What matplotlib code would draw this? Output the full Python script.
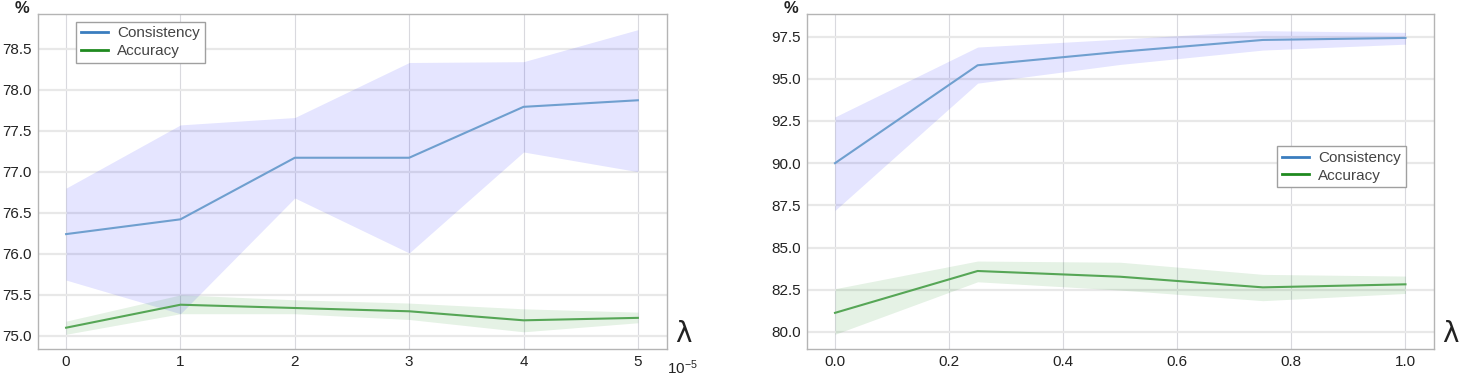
import matplotlib
matplotlib.use("Agg")
import matplotlib.pyplot as plt
from matplotlib.lines import Line2D
import numpy as np

# ---------------- data ----------------
# left panel (lambda in units of 1e-5)
lam_left = [0, 1, 2, 3, 4, 5]
cons_left_mean = [76.24, 76.42, 77.17, 77.17, 77.79, 77.87]
cons_left_upper = [76.80, 77.57, 77.66, 78.33, 78.34, 78.73]
cons_left_lower = [75.68, 75.27, 76.68, 76.01, 77.24, 77.00]
acc_left_mean = [75.10, 75.38, 75.34, 75.30, 75.19, 75.22]
acc_left_upper = [75.18, 75.50, 75.44, 75.40, 75.33, 75.29]
acc_left_lower = [75.02, 75.27, 75.27, 75.20, 75.05, 75.16]

# right panel
lam_right = [0.0, 0.25, 0.5, 0.75, 1.0]
cons_right_mean = [90.00, 95.80, 96.60, 97.30, 97.42]
cons_right_upper = [92.74, 96.88, 97.35, 97.85, 97.75]
cons_right_lower = [87.20, 94.74, 95.85, 96.70, 97.05]
acc_right_mean = [81.13, 83.61, 83.27, 82.64, 82.82]
acc_right_upper = [82.56, 84.20, 84.13, 83.41, 83.31]
acc_right_lower = [79.86, 82.97, 82.48, 81.85, 82.28]

left_xticks = [0, 1, 2, 3, 4, 5]
left_yticks = [75.0, 75.5, 76.0, 76.5, 77.0, 77.5, 78.0, 78.5]
right_xticks = [0.0, 0.2, 0.4, 0.6, 0.8, 1.0]
right_yticks = [80.0, 82.5, 85.0, 87.5, 90.0, 92.5, 95.0, 97.5]
series_labels = ["Consistency", "Accuracy"]

# ---------------- style ----------------
plt.rcParams['font.family'] = ['Liberation Sans', 'DejaVu Sans']
FS = 11
W, H = 1461, 376
fig = plt.figure(figsize=(W / 100, H / 100), dpi=100)

ax_l = fig.add_axes([37.5 / W, 1 - 349.3 / H, (666.5 - 37.5) / W, (349.3 - 14.3) / H])
ax_r = fig.add_axes([806.5 / W, 1 - 349.3 / H, (1434 - 806.5) / W, (349.3 - 14.3) / H])

line_blue = '#6f9fcf'
line_green = '#56a656'


def style_axes(ax, xticks, yticks, xfmt, yfmt):
    ax.set_facecolor('white')
    for s in ax.spines.values():
        s.set_color('#b4b4b4')
        s.set_linewidth(1.0)
    ax.set_xticks(xticks)
    ax.set_yticks(yticks)
    ax.set_xticklabels([xfmt.format(v) for v in xticks], fontsize=FS, color='#222222')
    ax.set_yticklabels([yfmt.format(v) for v in yticks], fontsize=FS, color='#222222')
    ax.tick_params(axis='both', length=0, pad=4)
    ax.xaxis.grid(True, color='#d9d9de', linewidth=0.8)
    ax.yaxis.grid(True, color='#e8e8e8', linewidth=1.6)
    ax.set_axisbelow(True)


def draw(ax, x, cm, cu, cl, am, au, al):
    ax.fill_between(x, cl, cu, color='blue', alpha=0.1, linewidth=0)
    ax.plot(x, cm, color=line_blue, linewidth=1.5)
    ax.fill_between(x, al, au, color='green', alpha=0.1, linewidth=0)
    ax.plot(x, am, color=line_green, linewidth=1.5)


draw(ax_l, lam_left, cons_left_mean, cons_left_upper, cons_left_lower,
     acc_left_mean, acc_left_upper, acc_left_lower)
draw(ax_r, lam_right, cons_right_mean, cons_right_upper, cons_right_lower,
     acc_right_mean, acc_right_upper, acc_right_lower)

style_axes(ax_l, left_xticks, left_yticks, "{:d}", "{:.1f}")
style_axes(ax_r, right_xticks, right_yticks, "{:.1f}", "{:.1f}")

ax_l.set_xlim(-0.25, 5.25)
ax_l.set_ylim(74.837, 78.917)
ax_r.set_xlim(-0.05, 1.05)
ax_r.set_ylim(78.97, 98.82)

handles = [Line2D([0], [0], color='#3a7dbf', linewidth=2),
           Line2D([0], [0], color='#1f8a1f', linewidth=2)]


def add_legend(ax, anchor):
    leg = ax.legend(handles, series_labels, loc='upper left', bbox_to_anchor=anchor,
                    borderaxespad=0, fontsize=FS, frameon=True, fancybox=False,
                    framealpha=1, edgecolor='#a0a0a0', handlelength=1.8,
                    handletextpad=0.6, labelspacing=0.25, borderpad=0.3)
    leg.get_frame().set_linewidth(1.0)
    for t in leg.get_texts():
        t.set_color('#444444')


add_legend(ax_l, (0.0612, 0.978))
add_legend(ax_r, (0.7498, 0.606))

for ax in (ax_l, ax_r):
    ax.text(1.026, 0.005, 'λ', transform=ax.transAxes, fontsize=20,
            ha='center', va='bottom', family='DejaVu Sans', color='#222222')
    ax.text(-0.024, 1.018, '%', transform=ax.transAxes, fontsize=12,
            fontweight='bold', ha='center', va='center', color='#222222')

ax_l.text(1.0008, -0.082, r'$\mathregular{10^{-5}}$', transform=ax_l.transAxes,
          fontsize=FS, ha='left', va='bottom', color='#222222')

fig.savefig('out.png', dpi=100, facecolor='white')
